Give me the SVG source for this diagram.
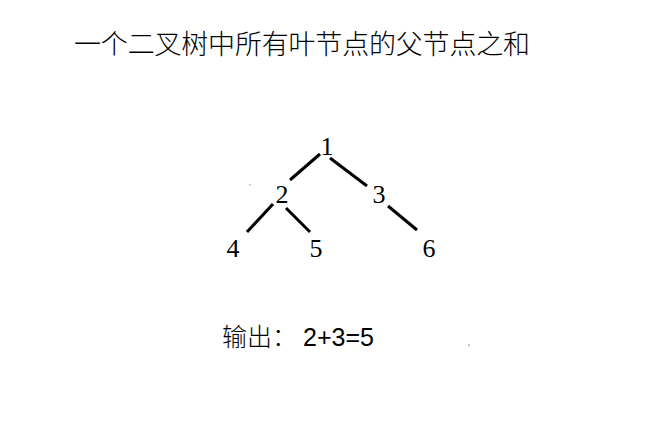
<svg xmlns="http://www.w3.org/2000/svg" width="664" height="430" viewBox="0 0 664 430">
<style>
.cjk{font-family:"Liberation Serif","Noto Sans CJK SC",serif;font-weight:300;fill:#000}
.num{font-family:"Liberation Serif",serif;font-size:26px;fill:#000;text-anchor:middle}
.edge{stroke:#000;stroke-width:3;stroke-linecap:butt;fill:none}
</style>
<rect width="664" height="430" fill="#fff"/>
<text class="cjk" x="74" y="54" font-size="27" textLength="456">一个二叉树中所有叶节点的父节点之和</text>
<g id="connectors">
<line class="edge" x1="320" y1="154" x2="290" y2="180"/>
<line class="edge" x1="330" y1="158" x2="367" y2="186"/>
<line class="edge" x1="273" y1="204" x2="247" y2="232"/>
<line class="edge" x1="286" y1="208" x2="310" y2="232"/>
<line class="edge" x1="388" y1="206" x2="417" y2="230"/>
</g>
<g id="n1"><text class="num" x="327" y="155">1</text></g>
<g id="n2"><text class="num" x="282" y="203">2</text></g>
<g id="n3"><text class="num" x="379" y="203">3</text></g>
<g id="n4"><text class="num" x="233" y="257">4</text></g>
<g id="n5"><text class="num" x="316" y="257">5</text></g>
<g id="n6"><text class="num" x="429" y="257">6</text></g>
<rect x="249.5" y="184.5" width="1" height="1" fill="#555"/>
<rect x="468.5" y="344.5" width="1.2" height="1.2" fill="#555"/>
<text x="222" y="346" font-size="24"><tspan class="cjk" font-size="25">输出：</tspan><tspan font-family="Liberation Sans,Arial,sans-serif" x="303" font-size="25">2+3=5</tspan></text>
</svg>
